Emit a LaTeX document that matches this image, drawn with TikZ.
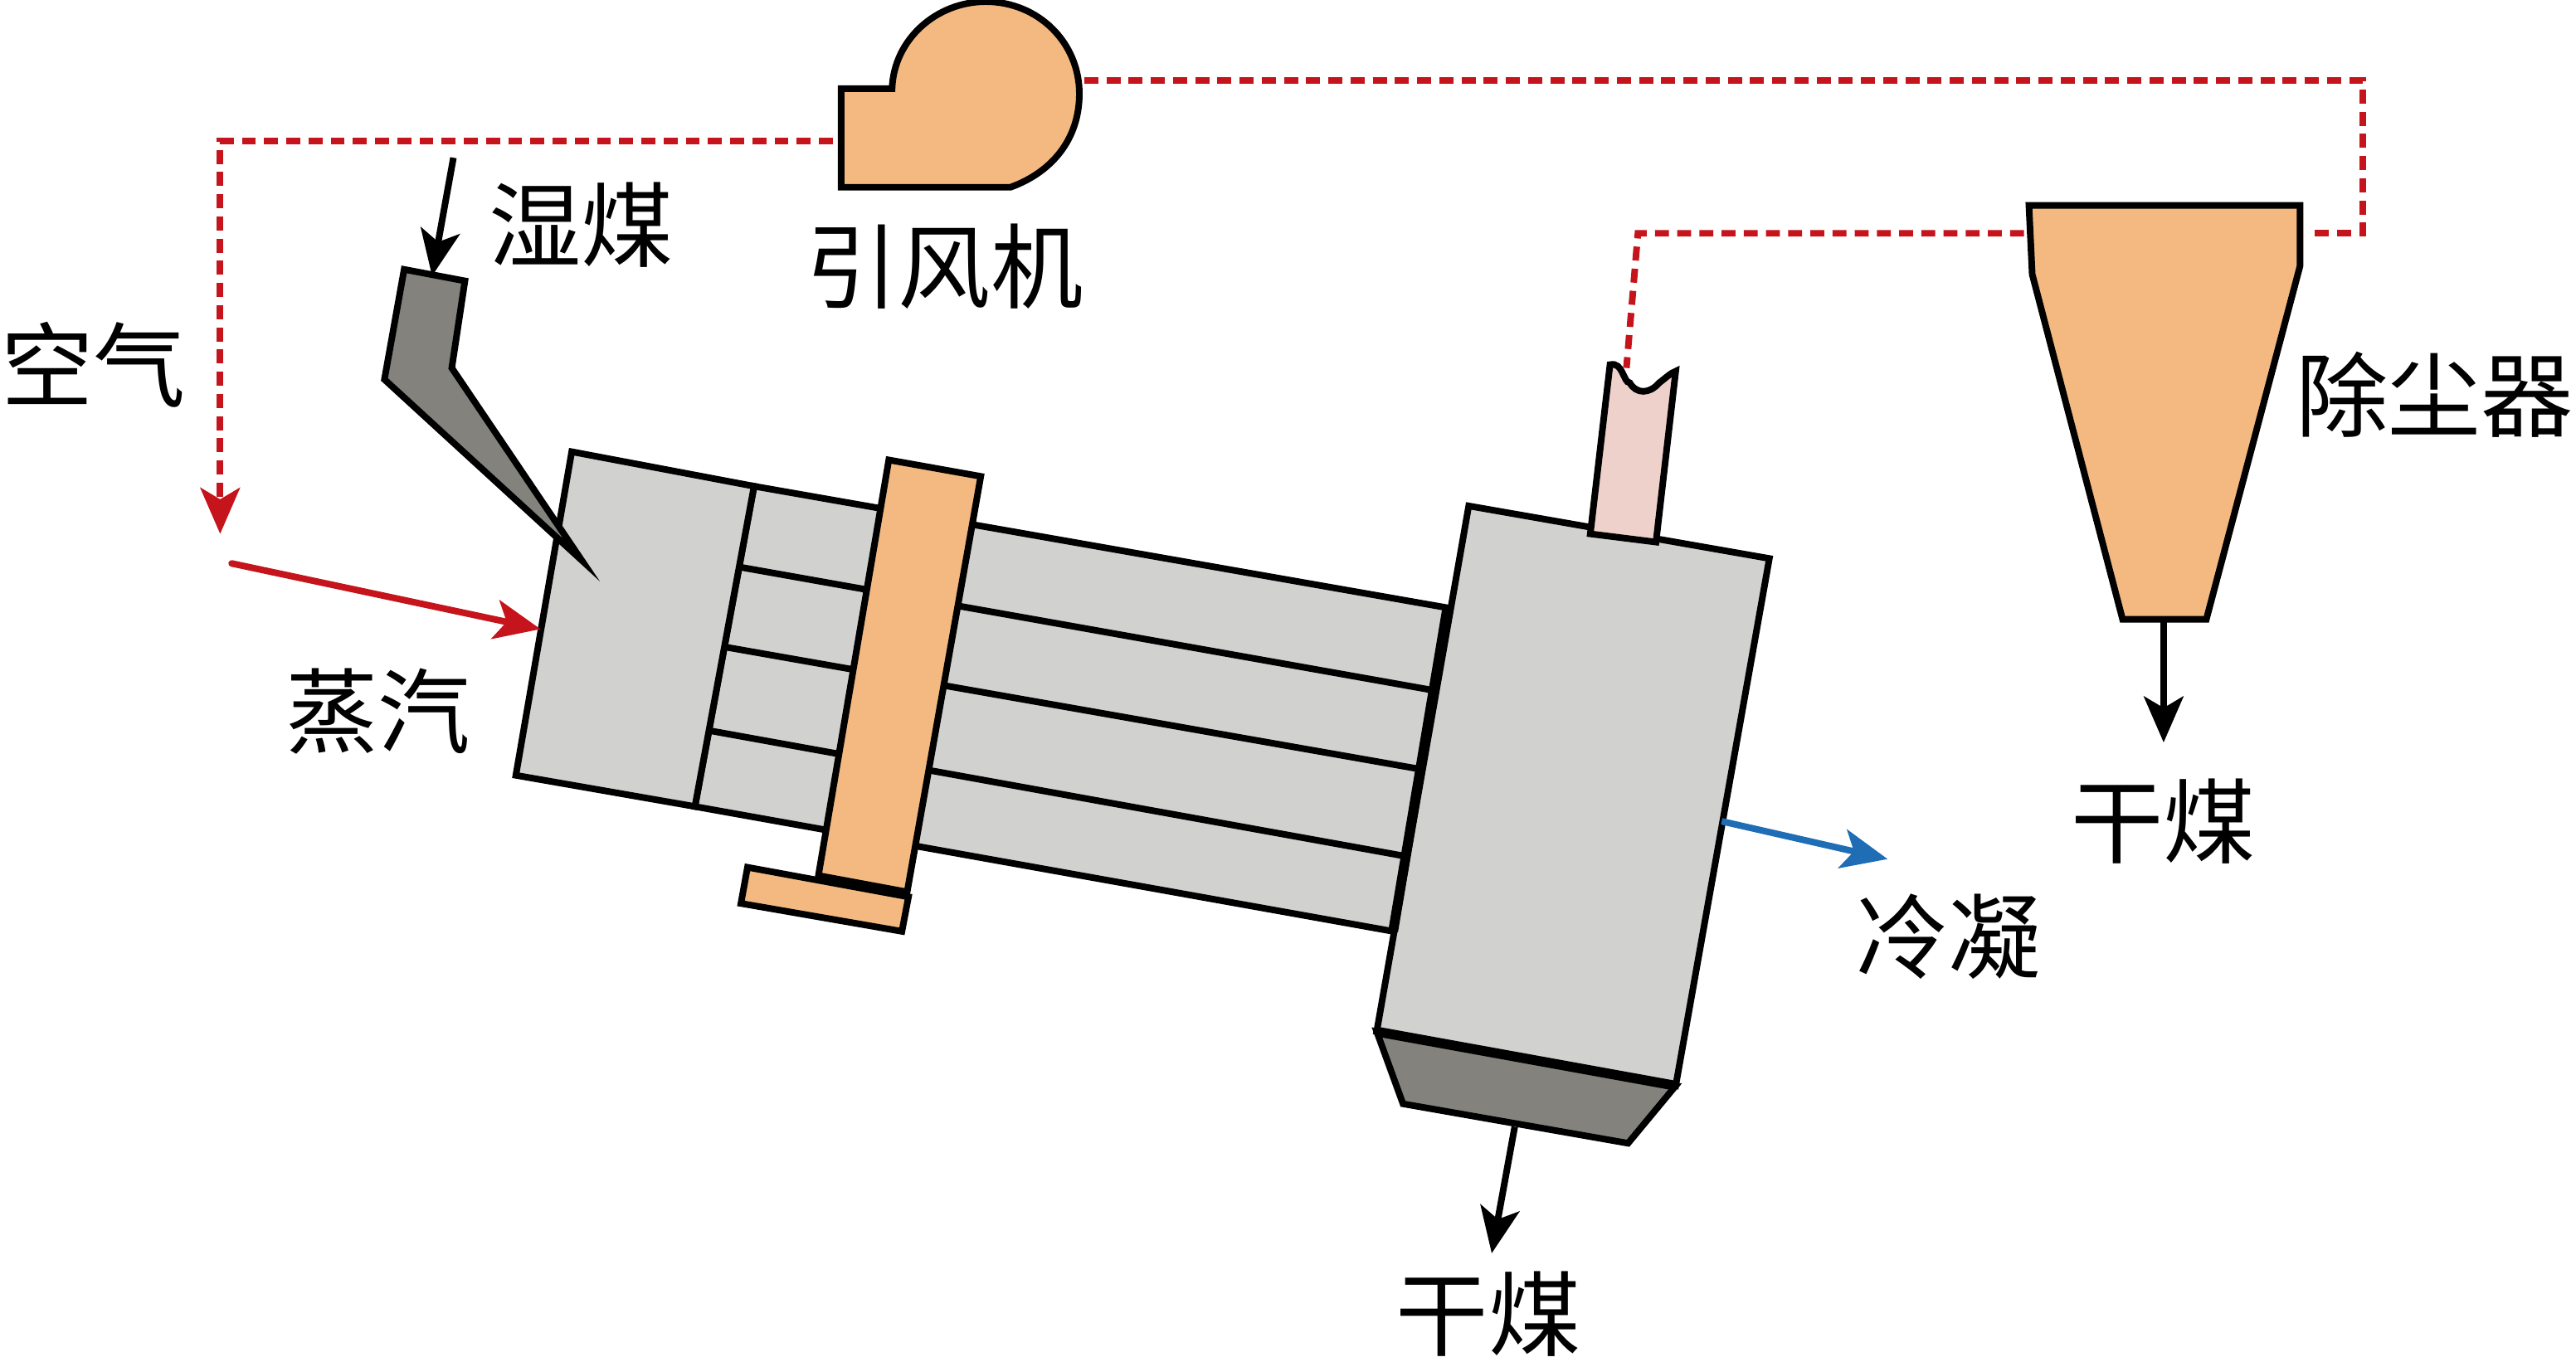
\documentclass[tikz,border=0pt]{standalone}
\usepackage{fontspec}
\usetikzlibrary{arrows.meta}
\newfontfamily\cjk{Noto Sans CJK SC}
\definecolor{shellgray}{HTML}{D1D1CF}
\definecolor{darkgray}{HTML}{83827D}
\definecolor{fanorange}{HTML}{F3B981}
\definecolor{stackpink}{HTML}{EFD1CC}
\definecolor{airred}{HTML}{C5141B}
\definecolor{condblue}{HTML}{1F6DB5}
\tikzset{
  outline/.style={draw=black,line width=0.04cm,line join=miter},
  airline/.style={draw=airred,line width=0.04cm,dash pattern=on 0.085cm off 0.05cm},
  flow/.style={line width=0.04cm,-{Stealth[length=0.28cm,width=0.24cm,inset=0.07cm]}},
  lbl/.style={font=\cjk\fontsize{16}{18}\selectfont,inner sep=0pt}
}

\begin{document}
\begin{tikzpicture}[x=0.01cm,y=-0.01cm]
  \useasboundingbox (0,0) rectangle (1568,829);
  % drum
  \draw [outline,fill=shellgray] (459,296)--(881,370)--(848,567)--(423,491)--cycle;
  \draw [outline] (449,345)--(871,420);
  \draw [outline] (442,394)--(863,468);
  \draw [outline] (433,445)--(854,521);
  \draw [outline,fill=shellgray] (348,275)--(459,296)--(423,491)--(314,472)--cycle;
  % support
  \draw [outline,fill=fanorange] (455,528)--(553,546)--(549,567)--(451,550)--cycle;
  \draw [outline,fill=fanorange] (541,280)--(597,290)--(552,544)--(498,534)--cycle;
  \draw [line width=0.06cm] (498,534)--(552,544);
  % outlet box
  \draw [outline,fill=darkgray] (838,628)--(1020,661)--(991,696)--(854,672)--cycle;
  \draw [outline,fill=shellgray] (894,308)--(1077,340)--(1020,661)--(838,628)--cycle;
  \draw [line width=0.06cm] (881,370)--(848,567);
  \draw [line width=0.06cm] (838,628)--(1020,661);
  \draw [outline,fill=stackpink] (968,325)--(980,222) .. controls (988,220) and (988,233) .. (992,233)
    .. controls (996,240) and (1004,240) .. (1010,233) .. controls (1014,230) and (1017,227) .. (1020,226)
    --(1008,330)--cycle;
  % feed chute
  \draw [outline,fill=darkgray] (246,164)--(283,171)--(275,224)--(354,341)--(234,231)--cycle;
  % fan and dust collector
  \draw [outline,fill=fanorange] (512,54)--(543,54) .. controls (544,24) and (570,1) .. (600,1)
    .. controls (632,1) and (657,26) .. (657,57) .. controls (657,85) and (640,105) .. (615,114)
    --(512,114)--cycle;
  \draw [outline,fill=fanorange] (1235,125)--(1400,125)--(1400,162)--(1343,377)--(1292,377)--(1237,167)--cycle;

  \coordinate (fanin) at (507,86);
  \coordinate (airturn) at (134,86);
  \coordinate (airend) at (134,325);
  \coordinate (fanout) at (660,49);
  \coordinate (topturn) at (1438,49);
  \coordinate (sideturn) at (1438,142);
  \coordinate (colout) at (1404,142);
  \coordinate (colin) at (1232,142);
  \coordinate (stackturn) at (997,142);
  \coordinate (stackend) at (990,224);
  \draw [airline,-{Stealth[length=0.28cm,width=0.24cm,inset=0.07cm]}] (fanin)--(airturn)--(airend);
  \draw [airline] (fanout)--(topturn)--(sideturn)--(colout);
  \draw [airline] (colin)--(stackturn)--(stackend);

  \coordinate (steamstart) at (141,343);
  \coordinate (steamend) at (329,383);
  \draw [airred,flow,line cap=round] (steamstart)--(steamend);
  \coordinate (wetstart) at (276,96);
  \coordinate (wetend) at (263,168);
  \draw [flow] (wetstart)--(wetend);
  \coordinate (dustout) at (1317,377);
  \coordinate (dustend) at (1317,452);
  \draw [flow] (dustout)--(dustend);
  \coordinate (hopperout) at (922,686);
  \coordinate (hopperend) at (908,763);
  \draw [flow] (hopperout)--(hopperend);
  \coordinate (condstart) at (1048,500);
  \coordinate (condend) at (1149,523);
  \draw [condblue,flow] (condstart)--(condend);

  \node [lbl] (wetcoal) at (354,137) {湿煤};
  \node [lbl] (fanlabel) at (575,162) {引风机};
  \node [lbl] (airlabel) at (57,222) {空气};
  \node [lbl] (steamlabel) at (230,433) {蒸汽};
  \node [lbl] (dustlabel) at (1482,240) {除尘器};
  \node [lbl] (drycoala) at (1317,500) {干煤};
  \node [lbl] (drycoalb) at (906,800) {干煤};
  \node [lbl] (condlabel) at (1186,570) {冷凝};
\end{tikzpicture}
\end{document}
